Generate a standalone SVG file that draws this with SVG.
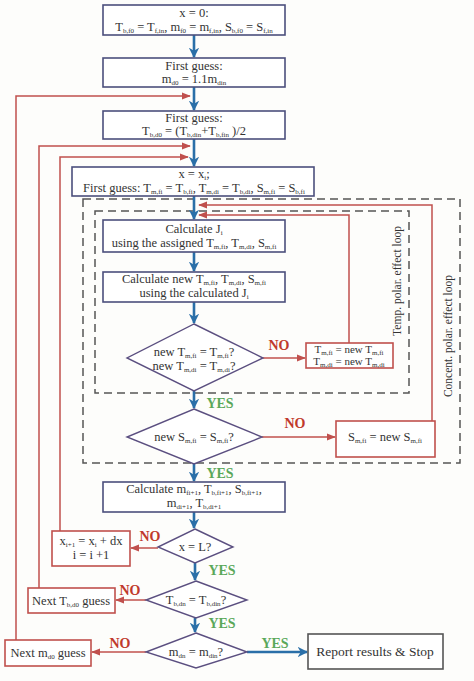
<svg xmlns="http://www.w3.org/2000/svg" width="474" height="681" viewBox="0 0 474 681">
<defs>
<style>
text{font-family:"Liberation Serif","Times New Roman",serif;fill:#333;font-size:12.5px;text-anchor:middle}
.s{font-size:7px}
.sm{font-size:11px}
.bx{fill:#fff;stroke:#4b4f7c;stroke-width:1.6}
.dm{fill:#fff;stroke:#5b4f80;stroke-width:1.4}
.rb{fill:#fff;stroke:#c0504d;stroke-width:1.6}
.bl{stroke:#2a6fa8;stroke-width:2.6;fill:none;marker-end:url(#ab)}
.ra{stroke:#c0504d;stroke-width:1.5;fill:none;marker-end:url(#ar)}
.dash{fill:none;stroke:#555;stroke-width:1.5;stroke-dasharray:8,5}
.yes{fill:#5aa85a;font-weight:bold;font-size:14px}
.no{fill:#c0392b;font-weight:bold;font-size:14px}
.rot{font-size:11.5px}
</style>
<marker id="ab" viewBox="0 0 10 10" refX="9" refY="5" markerWidth="4" markerHeight="4" orient="auto" markerUnits="strokeWidth"><path d="M0,0 L10,5 L0,10 L3,5 z" fill="#2a6fa8"/></marker>
<marker id="ar" viewBox="0 0 10 10" refX="9" refY="5" markerWidth="6" markerHeight="6" orient="auto" markerUnits="strokeWidth"><path d="M0,1 L10,5 L0,9 z" fill="#c0504d"/></marker>
</defs>
<rect width="474" height="681" fill="#fdfdfb"/>
<g id="loops">
<rect class="dash" x="83" y="199" width="377" height="264"/>
<rect class="dash" x="95" y="211" width="314" height="182"/>
<text class="rot" transform="translate(401,281) rotate(-90)">Temp. polar. effect loop</text>
<text class="rot" transform="translate(452,336) rotate(-90)">Concent. polar. effect loop</text>
</g>
<g id="connectors">
<line class="bl" x1="194" y1="35" x2="194" y2="57"/>
<line class="bl" x1="194" y1="87" x2="194" y2="110"/>
<line class="bl" x1="194" y1="139" x2="194" y2="166"/>
<line class="bl" x1="194" y1="196" x2="194" y2="219"/>
<line class="bl" x1="194" y1="252" x2="194" y2="271"/>
<line class="bl" x1="194" y1="302" x2="194" y2="323"/>
<line class="bl" x1="194" y1="391" x2="194" y2="408"/>
<line class="bl" x1="194" y1="464" x2="194" y2="481"/>
<line class="bl" x1="194" y1="512" x2="194" y2="528"/>
<line class="bl" x1="195" y1="563" x2="195" y2="580"/>
<line class="bl" x1="195" y1="618" x2="195" y2="632"/>
<line class="bl" x1="247" y1="652" x2="307" y2="652"/>
<polyline class="ra" points="16,640 16,96 190,96"/>
<polyline class="ra" points="39,588 39,146 190,146"/>
<polyline class="ra" points="60,531 60,157 188,157"/>
<polyline class="ra" points="432,421 432,205 199,205"/>
<polyline class="ra" points="349,343 349,215 199,215"/>
<line class="ra" x1="263" y1="358" x2="305" y2="358"/>
<line class="ra" x1="262" y1="437" x2="335" y2="437"/>
<line class="ra" x1="158" y1="548" x2="131" y2="548"/>
<line class="ra" x1="146" y1="600" x2="116" y2="600"/>
<line class="ra" x1="146" y1="652" x2="92" y2="652"/>
<text class="no" x="279" y="350">NO</text>
<text class="no" x="295" y="428">NO</text>
<text class="no" x="150" y="541">NO</text>
<text class="no" x="130" y="595">NO</text>
<text class="no" x="120" y="648">NO</text>
<text class="yes" x="220" y="408">YES</text>
<text class="yes" x="220" y="478">YES</text>
<text class="yes" x="222" y="575">YES</text>
<text class="yes" x="222" y="628">YES</text>
<text class="yes" x="275" y="648">YES</text>
</g>
<g id="n1"><rect class="bx" x="103" y="5" width="182" height="30"/>
<text x="194" y="17">x = 0:</text>
<text x="194" y="31">T<tspan class="s" dy="2">b,f0</tspan><tspan dy="-2"> = T</tspan><tspan class="s" dy="2">f,in</tspan><tspan dy="-2">, m</tspan><tspan class="s" dy="2">f0</tspan><tspan dy="-2"> = m</tspan><tspan class="s" dy="2">f,in</tspan><tspan dy="-2">, S</tspan><tspan class="s" dy="2">b,f0</tspan><tspan dy="-2"> = S</tspan><tspan class="s" dy="2">f,in</tspan></text></g>
<g id="n2"><rect class="bx" x="103" y="58" width="182" height="29"/>
<text x="194" y="70">First guess:</text>
<text x="194" y="83">m<tspan class="s" dy="2">d0</tspan><tspan dy="-2"> = 1.1m</tspan><tspan class="s" dy="2">din</tspan></text></g>
<g id="n3"><rect class="bx" x="103" y="111" width="182" height="28"/>
<text x="194" y="122">First guess:</text>
<text x="194" y="135">T<tspan class="s" dy="2">b,d0</tspan><tspan dy="-2"> = (T</tspan><tspan class="s" dy="2">b,din</tspan><tspan dy="-2">+T</tspan><tspan class="s" dy="2">b,fin</tspan><tspan dy="-2"> )/2</tspan></text></g>
<g id="n4"><rect class="bx" x="72" y="167" width="242" height="29"/>
<text x="194" y="178">x = x<tspan class="s" dy="2">i</tspan><tspan dy="-2">;</tspan></text>
<text x="194" y="192">First guess: T<tspan class="s" dy="2">m,fi</tspan><tspan dy="-2"> = T</tspan><tspan class="s" dy="2">b,fi</tspan><tspan dy="-2">, T</tspan><tspan class="s" dy="2">m,di</tspan><tspan dy="-2"> = T</tspan><tspan class="s" dy="2">b,di</tspan><tspan dy="-2">, S</tspan><tspan class="s" dy="2">m,fi</tspan><tspan dy="-2"> = S</tspan><tspan class="s" dy="2">b,fi</tspan></text></g>
<g id="n5"><rect class="bx" x="103" y="220" width="182" height="32"/>
<text x="194" y="233">Calculate J<tspan class="s" dy="2">i</tspan></text>
<text x="194" y="247">using the assigned T<tspan class="s" dy="2">m,fi</tspan><tspan dy="-2">, T</tspan><tspan class="s" dy="2">m,di</tspan><tspan dy="-2">, S</tspan><tspan class="s" dy="2">m,fi</tspan></text></g>
<g id="n6"><rect class="bx" x="103" y="272" width="182" height="30"/>
<text x="194" y="283">Calculate new T<tspan class="s" dy="2">m,fi</tspan><tspan dy="-2">, T</tspan><tspan class="s" dy="2">m,di</tspan><tspan dy="-2">, S</tspan><tspan class="s" dy="2">m,fi</tspan></text>
<text x="194" y="297">using the calculated J<tspan class="s" dy="2">i</tspan></text></g>
<g id="d1"><polygon class="dm" points="194,324 263,358 194,391 127,358"/>
<text x="194" y="356">new T<tspan class="s" dy="2">m,fi</tspan><tspan dy="-2"> = T</tspan><tspan class="s" dy="2">m,fi</tspan><tspan dy="-2">?</tspan></text>
<text x="194" y="370">new T<tspan class="s" dy="2">m,di</tspan><tspan dy="-2"> = T</tspan><tspan class="s" dy="2">m,di</tspan><tspan dy="-2">?</tspan></text></g>
<g id="r1"><rect class="rb" x="306" y="343" width="87" height="25"/>
<text class="sm" x="349" y="353">T<tspan class="s" dy="2">m,fi</tspan><tspan dy="-2"> = new T</tspan><tspan class="s" dy="2">m,fi</tspan></text>
<text class="sm" x="349" y="365">T<tspan class="s" dy="2">m,di</tspan><tspan dy="-2"> = new T</tspan><tspan class="s" dy="2">m,di</tspan></text></g>
<g id="d2"><polygon class="dm" points="194,409 262,437 194,464 127,437"/>
<text x="194" y="441">new S<tspan class="s" dy="2">m,fi</tspan><tspan dy="-2"> = S</tspan><tspan class="s" dy="2">m,fi</tspan><tspan dy="-2">?</tspan></text></g>
<g id="r2"><rect class="rb" x="336" y="421" width="99" height="36"/>
<text x="385" y="441">S<tspan class="s" dy="2">m,fi</tspan><tspan dy="-2"> = new S</tspan><tspan class="s" dy="2">m,fi</tspan></text></g>
<g id="n7"><rect class="bx" x="103" y="482" width="182" height="30"/>
<text x="194" y="493">Calculate m<tspan class="s" dy="2">fi+1</tspan><tspan dy="-2">, T</tspan><tspan class="s" dy="2">b,fi+1</tspan><tspan dy="-2">, S</tspan><tspan class="s" dy="2">b,fi+1</tspan><tspan dy="-2">,</tspan></text>
<text x="194" y="507">m<tspan class="s" dy="2">di+1</tspan><tspan dy="-2">, T</tspan><tspan class="s" dy="2">b,di+1</tspan></text></g>
<g id="d3"><polygon class="dm" points="195,529 233,547 195,563 158,547"/>
<text x="195" y="551">x = L?</text></g>
<g id="r3"><rect class="rb" x="52" y="531" width="78" height="35"/>
<text x="91" y="545">x<tspan class="s" dy="2">i+1</tspan><tspan dy="-2"> = x</tspan><tspan class="s" dy="2">i</tspan><tspan dy="-2"> + dx</tspan></text>
<text x="91" y="559">i = i +1</text></g>
<g id="d4"><polygon class="dm" points="196,581 247,600 196,618 146,600"/>
<text x="196" y="604">T<tspan class="s" dy="2">b,dn</tspan><tspan dy="-2"> = T</tspan><tspan class="s" dy="2">b,din</tspan><tspan dy="-2">?</tspan></text></g>
<g id="r4"><rect class="rb" x="28" y="588" width="87" height="25"/>
<text x="71" y="605">Next T<tspan class="s" dy="2">b,d0</tspan><tspan dy="-2"> guess</tspan></text></g>
<g id="d5"><polygon class="dm" points="196,633 247,652 196,668 146,652"/>
<text x="196" y="656">m<tspan class="s" dy="2">dn</tspan><tspan dy="-2"> = m</tspan><tspan class="s" dy="2">din</tspan><tspan dy="-2">?</tspan></text></g>
<g id="r5"><rect class="rb" x="5" y="640" width="86" height="26"/>
<text x="48" y="657">Next m<tspan class="s" dy="2">d0</tspan><tspan dy="-2"> guess</tspan></text></g>
<g id="n8"><rect class="bx" x="308" y="634" width="135" height="35" style="stroke:#555"/>
<text x="375" y="656" style="font-size:13.5px">Report results &amp; Stop</text></g>
</svg>
